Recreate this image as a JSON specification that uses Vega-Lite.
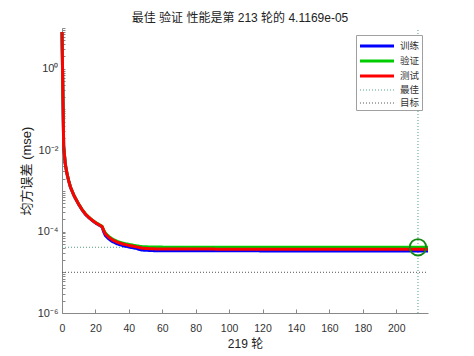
{
  "$schema": "https://vega.github.io/schema/vega-lite/v6.json",
  "width": 366,
  "height": 285,
  "autosize": "none",
  "padding": {"left": 62, "top": 28, "right": 46, "bottom": 43},
  "background": "white",
  "config": {
    "view": {"stroke": null},
    "font": "Liberation Sans, Noto Sans CJK SC, sans-serif",
    "axis": {"labelOverlap": false, "labelFlush": false, "labelBound": false}
  },
  "title": {
    "text": "最佳 验证 性能是第 213 轮的 4.1169e-05",
    "fontSize": 12,
    "fontWeight": "normal",
    "font": "Liberation Sans, Noto Sans CJK SC, sans-serif",
    "color": "#222222",
    "offset": -3,
    "dx": -5
  },
  "datasets": {
    "lines": [
      {"series": "最佳", "seg": "h", "epoch": 0, "mse": 4.1169e-5},
      {"series": "最佳", "seg": "h", "epoch": 219, "mse": 4.1169e-5},
      {"series": "最佳", "seg": "v", "epoch": 213, "mse": 1e-6},
      {"series": "最佳", "seg": "v", "epoch": 213, "mse": 10},
      {"series": "目标", "seg": "g", "epoch": 0, "mse": 1e-5},
      {"series": "目标", "seg": "g", "epoch": 219, "mse": 1e-5},
      {"series": "训练", "seg": "a", "epoch": 0, "mse": 7.9},
      {"series": "训练", "seg": "a", "epoch": 1, "mse": 0.0125},
      {"series": "训练", "seg": "a", "epoch": 2, "mse": 0.00443},
      {"series": "训练", "seg": "a", "epoch": 3, "mse": 0.00261},
      {"series": "训练", "seg": "a", "epoch": 4, "mse": 0.00176},
      {"series": "训练", "seg": "a", "epoch": 5, "mse": 0.00125},
      {"series": "训练", "seg": "a", "epoch": 6, "mse": 0.00099},
      {"series": "训练", "seg": "a", "epoch": 7, "mse": 0.00079},
      {"series": "训练", "seg": "a", "epoch": 8, "mse": 0.000655},
      {"series": "训练", "seg": "a", "epoch": 10, "mse": 0.000463},
      {"series": "训练", "seg": "a", "epoch": 12, "mse": 0.000343},
      {"series": "训练", "seg": "a", "epoch": 14, "mse": 0.000266},
      {"series": "训练", "seg": "a", "epoch": 16, "mse": 0.000221},
      {"series": "训练", "seg": "a", "epoch": 18, "mse": 0.000188},
      {"series": "训练", "seg": "a", "epoch": 20, "mse": 0.000164},
      {"series": "训练", "seg": "a", "epoch": 22, "mse": 0.000146},
      {"series": "训练", "seg": "a", "epoch": 23, "mse": 0.000138},
      {"series": "训练", "seg": "a", "epoch": 24, "mse": 0.00013},
      {"series": "训练", "seg": "a", "epoch": 25, "mse": 9.77e-5},
      {"series": "训练", "seg": "a", "epoch": 26, "mse": 7.94e-5},
      {"series": "训练", "seg": "a", "epoch": 28, "mse": 6.61e-5},
      {"series": "训练", "seg": "a", "epoch": 30, "mse": 5.75e-5},
      {"series": "训练", "seg": "a", "epoch": 33, "mse": 5.01e-5},
      {"series": "训练", "seg": "a", "epoch": 36, "mse": 4.57e-5},
      {"series": "训练", "seg": "a", "epoch": 40, "mse": 4.17e-5},
      {"series": "训练", "seg": "a", "epoch": 44, "mse": 3.89e-5},
      {"series": "训练", "seg": "a", "epoch": 48, "mse": 3.51e-5},
      {"series": "训练", "seg": "a", "epoch": 55, "mse": 3.4e-5},
      {"series": "训练", "seg": "a", "epoch": 70, "mse": 3.37e-5},
      {"series": "训练", "seg": "a", "epoch": 100, "mse": 3.36e-5},
      {"series": "训练", "seg": "a", "epoch": 150, "mse": 3.35e-5},
      {"series": "训练", "seg": "a", "epoch": 200, "mse": 3.345e-5},
      {"series": "训练", "seg": "a", "epoch": 213, "mse": 3.343e-5},
      {"series": "训练", "seg": "a", "epoch": 219, "mse": 3.34e-5},
      {"series": "验证", "seg": "b", "epoch": 0, "mse": 7.96},
      {"series": "验证", "seg": "b", "epoch": 1, "mse": 0.0127},
      {"series": "验证", "seg": "b", "epoch": 2, "mse": 0.0045},
      {"series": "验证", "seg": "b", "epoch": 3, "mse": 0.00265},
      {"series": "验证", "seg": "b", "epoch": 4, "mse": 0.00179},
      {"series": "验证", "seg": "b", "epoch": 5, "mse": 0.00127},
      {"series": "验证", "seg": "b", "epoch": 6, "mse": 0.00101},
      {"series": "验证", "seg": "b", "epoch": 7, "mse": 0.0008},
      {"series": "验证", "seg": "b", "epoch": 8, "mse": 0.000666},
      {"series": "验证", "seg": "b", "epoch": 10, "mse": 0.000472},
      {"series": "验证", "seg": "b", "epoch": 12, "mse": 0.00035},
      {"series": "验证", "seg": "b", "epoch": 14, "mse": 0.000272},
      {"series": "验证", "seg": "b", "epoch": 16, "mse": 0.000226},
      {"series": "验证", "seg": "b", "epoch": 18, "mse": 0.000193},
      {"series": "验证", "seg": "b", "epoch": 20, "mse": 0.000168},
      {"series": "验证", "seg": "b", "epoch": 22, "mse": 0.00015},
      {"series": "验证", "seg": "b", "epoch": 23, "mse": 0.000142},
      {"series": "验证", "seg": "b", "epoch": 24, "mse": 0.000134},
      {"series": "验证", "seg": "b", "epoch": 25, "mse": 0.000108},
      {"series": "验证", "seg": "b", "epoch": 26, "mse": 9.12e-5},
      {"series": "验证", "seg": "b", "epoch": 28, "mse": 7.59e-5},
      {"series": "验证", "seg": "b", "epoch": 30, "mse": 6.61e-5},
      {"series": "验证", "seg": "b", "epoch": 33, "mse": 5.75e-5},
      {"series": "验证", "seg": "b", "epoch": 36, "mse": 5.25e-5},
      {"series": "验证", "seg": "b", "epoch": 40, "mse": 4.84e-5},
      {"series": "验证", "seg": "b", "epoch": 44, "mse": 4.52e-5},
      {"series": "验证", "seg": "b", "epoch": 48, "mse": 4.25e-5},
      {"series": "验证", "seg": "b", "epoch": 55, "mse": 4.16e-5},
      {"series": "验证", "seg": "b", "epoch": 70, "mse": 4.13e-5},
      {"series": "验证", "seg": "b", "epoch": 100, "mse": 4.125e-5},
      {"series": "验证", "seg": "b", "epoch": 150, "mse": 4.12e-5},
      {"series": "验证", "seg": "b", "epoch": 200, "mse": 4.118e-5},
      {"series": "验证", "seg": "b", "epoch": 213, "mse": 4.1169e-5},
      {"series": "验证", "seg": "b", "epoch": 219, "mse": 4.1169e-5},
      {"series": "测试", "seg": "c", "epoch": 0, "mse": 7.94},
      {"series": "测试", "seg": "c", "epoch": 1, "mse": 0.0126},
      {"series": "测试", "seg": "c", "epoch": 2, "mse": 0.00447},
      {"series": "测试", "seg": "c", "epoch": 3, "mse": 0.00263},
      {"series": "测试", "seg": "c", "epoch": 4, "mse": 0.00178},
      {"series": "测试", "seg": "c", "epoch": 5, "mse": 0.00126},
      {"series": "测试", "seg": "c", "epoch": 6, "mse": 0.001},
      {"series": "测试", "seg": "c", "epoch": 7, "mse": 0.000794},
      {"series": "测试", "seg": "c", "epoch": 8, "mse": 0.000661},
      {"series": "测试", "seg": "c", "epoch": 10, "mse": 0.000468},
      {"series": "测试", "seg": "c", "epoch": 12, "mse": 0.000347},
      {"series": "测试", "seg": "c", "epoch": 14, "mse": 0.000269},
      {"series": "测试", "seg": "c", "epoch": 16, "mse": 0.000224},
      {"series": "测试", "seg": "c", "epoch": 18, "mse": 0.000191},
      {"series": "测试", "seg": "c", "epoch": 20, "mse": 0.000166},
      {"series": "测试", "seg": "c", "epoch": 22, "mse": 0.000148},
      {"series": "测试", "seg": "c", "epoch": 23, "mse": 0.00014},
      {"series": "测试", "seg": "c", "epoch": 24, "mse": 0.000132},
      {"series": "测试", "seg": "c", "epoch": 25, "mse": 0.000105},
      {"series": "测试", "seg": "c", "epoch": 26, "mse": 8.71e-5},
      {"series": "测试", "seg": "c", "epoch": 28, "mse": 7.24e-5},
      {"series": "测试", "seg": "c", "epoch": 30, "mse": 6.31e-5},
      {"series": "测试", "seg": "c", "epoch": 33, "mse": 5.5e-5},
      {"series": "测试", "seg": "c", "epoch": 36, "mse": 5.01e-5},
      {"series": "测试", "seg": "c", "epoch": 40, "mse": 4.57e-5},
      {"series": "测试", "seg": "c", "epoch": 44, "mse": 4.27e-5},
      {"series": "测试", "seg": "c", "epoch": 48, "mse": 3.89e-5},
      {"series": "测试", "seg": "c", "epoch": 55, "mse": 3.76e-5},
      {"series": "测试", "seg": "c", "epoch": 70, "mse": 3.72e-5},
      {"series": "测试", "seg": "c", "epoch": 100, "mse": 3.7e-5},
      {"series": "测试", "seg": "c", "epoch": 150, "mse": 3.68e-5},
      {"series": "测试", "seg": "c", "epoch": 200, "mse": 3.675e-5},
      {"series": "测试", "seg": "c", "epoch": 213, "mse": 3.673e-5},
      {"series": "测试", "seg": "c", "epoch": 219, "mse": 3.672e-5}
    ],
    "best": [{"epoch": 213, "mse": 4.1169e-5}]
  },
  "layer": [
    {
      "data": {"name": "lines"},
      "mark": {"type": "line", "strokeCap": "butt"},
      "encoding": {
        "x": {
          "field": "epoch", "type": "quantitative",
          "scale": {"domain": [0, 219], "nice": false, "zero": false},
          "axis": {
            "values": [0, 20, 40, 60, 80, 100, 120, 140, 160, 180, 200],
            "tickCount": 50,
            "format": "d",
            "labelOverlap": false,
            "labelFlush": false,
            "grid": false,
            "tickSize": -4,
            "labelPadding": 14,
            "domainColor": "#888888",
            "tickColor": "#888888",
            "labelColor": "#333333",
            "labelFontSize": 10.5,
            "labelFont": "Liberation Sans",
            "title": "219 轮",
            "titleFontSize": 12,
            "titleFontWeight": "normal",
            "titleColor": "#222222",
            "titlePadding": 5
          }
        },
        "y": {
          "field": "mse", "type": "quantitative",
          "scale": {"type": "log", "domain": [0.000001, 10], "nice": false},
          "axis": {
            "values": [0.000001, 0.000002, 0.000003, 0.000004, 0.000005, 0.000006, 0.000007, 0.000008, 0.000009,
                       0.00001, 0.00002, 0.00003, 0.00004, 0.00005, 0.00006, 0.00007, 0.00008, 0.00009,
                       0.0001, 0.0002, 0.0003, 0.0004, 0.0005, 0.0006, 0.0007, 0.0008, 0.0009,
                       0.001, 0.002, 0.003, 0.004, 0.005, 0.006, 0.007, 0.008, 0.009,
                       0.01, 0.02, 0.03, 0.04, 0.05, 0.06, 0.07, 0.08, 0.09,
                       0.1, 0.2, 0.3, 0.4, 0.5, 0.6, 0.7, 0.8, 0.9,
                       1, 2, 3, 4, 5, 6, 7, 8, 9, 10],
            "tickCount": 200,
            "labelExpr": "datum.value == 1 ? '10⁰' : datum.value == 0.01 ? '10⁻²' : datum.value == 0.0001 ? '10⁻⁴' : datum.value == 0.000001 ? '10⁻⁶' : ''",
            "labelOverlap": false,
            "grid": false,
            "tickSize": -3,
            "labelPadding": 7,
            "domainColor": "#888888",
            "tickColor": "#888888",
            "labelColor": "#333333",
            "labelFontSize": 11,
            "labelFont": "Liberation Sans",
            "title": "均方误差 (mse)",
            "titleFontSize": 13,
            "titleFontWeight": "normal",
            "titleColor": "#222222",
            "titlePadding": 4
          }
        },
        "detail": {"field": "seg"},
        "color": {
          "field": "series", "type": "nominal",
          "scale": {
            "domain": ["训练", "验证", "测试", "最佳", "目标"],
            "range": ["#0000ff", "#00cc00", "#ff0000", "#50a080", "#555555"]
          },
          "legend": {
            "orient": "none",
            "legendX": 294,
            "legendY": 7,
            "title": null,
            "symbolType": "M-2.35,0H2.35",
            "symbolSize": 210,
            "symbolOffset": 10,
            "labelOffset": 14,
            "padding": 2,
            "rowPadding": 0,
            "strokeColor": "#a0a0a0",
            "fillColor": "white",
            "labelFontSize": 9.5,
            "labelFont": "Noto Sans CJK SC",
            "labelColor": "#333333",
            "symbolFillColor": "transparent"
          }
        },
        "strokeDash": {
          "field": "series", "type": "nominal",
          "scale": {
            "domain": ["训练", "验证", "测试", "最佳", "目标"],
            "range": [[1, 0], [1, 0], [1, 0], [1, 2], [1, 2]]
          }
        },
        "strokeWidth": {
          "field": "series", "type": "ordinal",
          "scale": {
            "type": "ordinal",
            "domain": ["训练", "验证", "测试", "最佳", "目标"],
            "range": [3, 3, 3, 1, 1]
          },
          "legend": null
        }
      }
    },
    {
      "data": {"name": "best"},
      "mark": {"type": "point", "shape": "circle", "filled": false, "size": 270, "strokeWidth": 1.8, "color": "#118811", "opacity": 1},
      "encoding": {
        "x": {"field": "epoch", "type": "quantitative"},
        "y": {"field": "mse", "type": "quantitative"}
      }
    }
  ]
}
